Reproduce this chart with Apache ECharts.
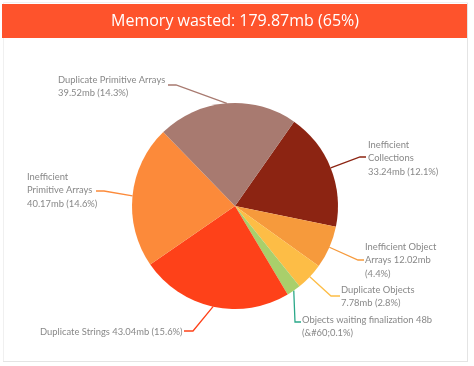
<!DOCTYPE html>
<html>
<head>
<meta charset="utf-8">
<script src="https://cdn.jsdelivr.net/npm/echarts@6/dist/echarts.min.js"></script>
<style>
html,body{margin:0;padding:0;background:#fff;}
#chart{width:474px;height:366px;}
</style>
</head>
<body>
<div id="chart"></div>
<script>
// ---- data ----
var titleText = 'Memory wasted: 179.87mb (65%)';
var categories = ['Inefficient Collections', 'Inefficient Object Arrays', 'Duplicate Objects',
  'Objects waiting finalization', 'Duplicate Strings', 'Inefficient Primitive Arrays', 'Duplicate Primitive Arrays'];
var valuesMb = [33.24, 12.02, 7.78, 0.000048, 43.04, 40.17, 39.52];
var sizeLabels = ['33.24mb', '12.02mb', '7.78mb', '48b', '43.04mb', '40.17mb', '39.52mb'];
var pctLabels = ['12.1%', '4.4%', '2.8%', '&#60;0.1%', '15.6%', '14.6%', '14.3%'];
var labelTexts = [
  'Inefficient\nCollections\n33.24mb (12.1%)',
  'Inefficient Object\nArrays 12.02mb\n(4.4%)',
  'Duplicate Objects\n7.78mb (2.8%)',
  'Objects waiting finalization 48b\n(&#60;0.1%)',
  'Duplicate Strings 43.04mb (15.6%)',
  'Inefficient\nPrimitive Arrays\n40.17mb (14.6%)',
  'Duplicate Primitive Arrays\n39.52mb (14.3%)'
];
var colors = ['#8c2412', '#f69a3c', '#fdbd46', '#a9cf6b', '#fe4119', '#fc8a3a', '#a87a70'];
var lineColors = ['#8c2412', '#f69a3c', '#fdbd46', '#2aa889', '#fe4119', '#fc8a3a', '#a87a70'];

// label placement (text anchor, elbow, end of connector)
var labelPos = [
  {x: 368, y: 138, elbow: [360, 157], end: [366, 157]},
  {x: 365, y: 240, elbow: [358, 260], end: [364, 260]},
  {x: 341, y: 283, elbow: [331, 296], end: [340, 296]},
  {x: 302, y: 313, elbow: [295, 322], end: [301, 322]},
  {x: 40,  y: 325, elbow: [193, 331], end: [184, 331]},
  {x: 27,  y: 170, elbow: [104, 191], end: [96, 191]},
  {x: 58,  y: 73,  elbow: [176, 85],  end: [168, 85]}
];

var data = categories.map(function (c, i) {
  return {
    name: c,
    value: valuesMb[i],
    itemStyle: {color: colors[i]},
    labelLine: {lineStyle: {color: lineColors[i]}}
  };
});

var chart = echarts.init(document.getElementById('chart'), null, {renderer: 'canvas'});
chart.setOption({
  animation: false,
  backgroundColor: '#fff',
  graphic: [
    {type: 'rect', shape: {x: 3.5, y: 2.5, width: 464, height: 359}, style: {fill: 'none', stroke: '#f0f0f0', lineWidth: 1}, z: 0},
    {type: 'line', shape: {x1: 467.5, y1: 3, x2: 467.5, y2: 362}, style: {stroke: '#e4e4e4', lineWidth: 1}},
    {type: 'line', shape: {x1: 3, y1: 361.5, x2: 468, y2: 361.5}, style: {stroke: '#e4e4e4', lineWidth: 1}},
    {type: 'rect', shape: {x: 2, y: 4, width: 465, height: 34}, style: {fill: '#fe532c'}},
    {type: 'text', x: 235, y: 21, style: {text: titleText, fill: '#fff', font: '16px "Open Sans"', textAlign: 'center', textVerticalAlign: 'middle'}}
  ],
  series: [{
    type: 'pie',
    center: [235, 206],
    radius: 103,
    startAngle: 55,
    clockwise: true,
    minAngle: 8,
    avoidLabelOverlap: false,
    data: data,
    itemStyle: {borderWidth: 0},
    emphasis: {disabled: true},
    label: {
      show: true,
      position: 'outside',
      formatter: function (p) { return labelTexts[p.dataIndex]; },
      color: '#888888',
      fontFamily: 'Lato',
      fontSize: 9.4,
      lineHeight: 13.5,
      align: 'left'
    },
    labelLine: {show: true, length: 10, length2: 10, lineStyle: {width: 1.3}},
    labelLayout: function (params) {
      var lp = labelPos[params.dataIndex];
      var start = params.labelLinePoints ? params.labelLinePoints[0] : lp.elbow;
      return {
        x: lp.x,
        y: lp.y,
        align: 'left',
        verticalAlign: 'top',
        labelLinePoints: [start, lp.elbow, lp.end]
      };
    }
  }]
});
</script>
</body>
</html>
